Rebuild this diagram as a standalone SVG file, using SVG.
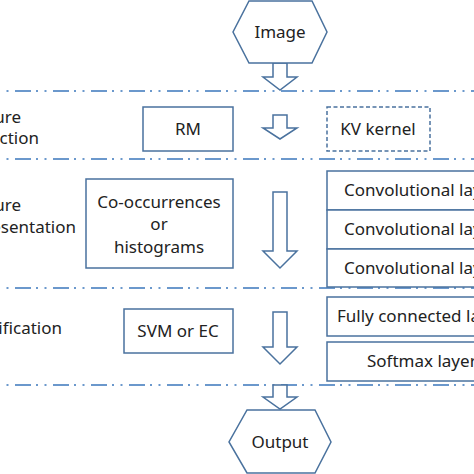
<svg xmlns="http://www.w3.org/2000/svg" width="474" height="474" viewBox="0 0 474 474">
<defs>
<style>
.bx{fill:#fff;stroke:#4a729e;stroke-width:1.5}
.dbx{fill:#fff;stroke:#4a729e;stroke-width:1.5;stroke-dasharray:4 2.5}
.ar{fill:#fff;stroke:#4a729e;stroke-width:1.5;stroke-linejoin:miter}
.sep{stroke:#6b98cc;stroke-width:2;fill:none;stroke-dasharray:16 5 2 6.5 2 6.5;stroke-dashoffset:23}
text{font-family:"Noto Sans","Liberation Sans",Arial,sans-serif;font-size:17px;fill:#222}
.c{text-anchor:middle}
.e{text-anchor:end}
</style>
</defs>
<rect width="474" height="474" fill="#fff"/>
<g id="separators">
<line class="sep" x1="0" y1="91" x2="474" y2="91"/>
<line class="sep" x1="0" y1="159" x2="474" y2="159"/>
<line class="sep" x1="0" y1="288" x2="474" y2="288"/>
<line class="sep" x1="0" y1="385" x2="474" y2="385"/>
</g>
<g id="labels">
<text class="e" x="21" y="123">Feature</text>
<text class="e" x="39" y="144">extraction</text>
<text class="e" x="21" y="211">Feature</text>
<text class="e" x="76" y="233">representation</text>
<text class="e" x="62" y="334">Classification</text>
</g>
<g id="connectors">
<polygon class="ar" points="273,63 287,63 287,77 297,77 280,90 263,77 273,77"/>
<polygon class="ar" points="273,115 287,115 287,128 297,128 280,139 263,128 273,128"/>
<polygon class="ar" points="273,192 287,192 287,251 297,251 280,268 263,251 273,251"/>
<polygon class="ar" points="273,312 287,312 287,347 297,347 280,364 263,347 273,347"/>
<polygon class="ar" points="273,385 287,385 287,397 297,397 280,409 263,397 273,397"/>
</g>
<g id="image">
<polygon class="bx" points="249,1 312,1 327,32 312,63 249,63 233,32"/>
<text class="c" x="280" y="38">Image</text>
</g>
<g id="rm">
<rect class="bx" x="143" y="107" width="90" height="44"/>
<text class="c" x="188" y="135">RM</text>
</g>
<g id="kv">
<rect class="dbx" x="327" y="107" width="103" height="44"/>
<text class="c" x="378" y="135">KV kernel</text>
</g>
<g id="cooc">
<rect class="bx" x="86" y="179" width="147" height="89"/>
<text class="c" x="159" y="208">Co-occurrences</text>
<text class="c" x="159" y="230">or</text>
<text class="c" x="159" y="253">histograms</text>
</g>
<g id="conv1">
<rect class="bx" x="327" y="171" width="190" height="39"/>
<text x="344" y="196">Convolutional layer</text>
</g>
<g id="conv2">
<rect class="bx" x="327" y="210" width="190" height="39"/>
<text x="344" y="235">Convolutional layer</text>
</g>
<g id="conv3">
<rect class="bx" x="327" y="249" width="190" height="38"/>
<text x="344" y="274">Convolutional layer</text>
</g>
<g id="svm">
<rect class="bx" x="124" y="309" width="109" height="44"/>
<text class="c" x="178" y="337">SVM or EC</text>
</g>
<g id="fc">
<rect class="bx" x="327" y="297" width="190" height="39"/>
<text x="337" y="322">Fully connected layer</text>
</g>
<g id="softmax">
<rect class="bx" x="327" y="342" width="190" height="39"/>
<text x="367" y="367">Softmax layer</text>
</g>
<g id="output">
<polygon class="bx" points="247,410 315,410 331,442 315,473 247,473 229,442"/>
<text class="c" x="280" y="448">Output</text>
</g>
</svg>
